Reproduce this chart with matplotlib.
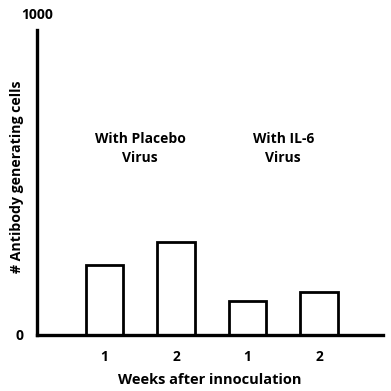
import matplotlib

matplotlib.use("Agg")
import matplotlib.pyplot as plt

# data
positions = [0, 1, 2, 3]
week_labels = ["1", "2", "1", "2"]
antibody_cells = [230, 305, 111, 141]
group_labels = ["With Placebo\nVirus", "With IL-6\nVirus"]
group_centers = [0.5, 2.5]

plt.rcParams["font.family"] = ["Open Sans", "DejaVu Sans"]
plt.rcParams["font.weight"] = "bold"

fig = plt.figure(figsize=(3.91, 3.91), dpi=100)
ax = fig.add_axes((37 / 391, 56 / 391, 346 / 391, 305 / 391))

ax.bar(
    positions,
    antibody_cells,
    width=0.52,
    facecolor="white",
    edgecolor="black",
    linewidth=2.0,
    zorder=2,
)

ax.set_xlim(-0.944, 3.895)
ax.set_ylim(0, 1000)

for side in ("top", "right"):
    ax.spines[side].set_visible(False)
for side in ("left", "bottom"):
    ax.spines[side].set_linewidth(2.4)
    ax.spines[side].set_zorder(3)

ax.set_xticks(positions)
ax.set_xticklabels(week_labels, fontsize=10, fontweight="bold")
ax.set_yticks([0])
ax.set_yticklabels(["0"], fontsize=10, fontweight="bold")
ax.tick_params(axis="both", length=0)
ax.tick_params(axis="x", pad=11)
ax.tick_params(axis="y", pad=10)

# "1000" sits above the top of the y axis
ax.text(0, 1.025, "1000", transform=ax.transAxes, ha="center", va="bottom",
        fontsize=10, fontweight="bold")

for cx, lab in zip(group_centers, group_labels):
    ax.text(cx, 610, lab, ha="center", va="center", fontsize=10,
            fontweight="bold", linespacing=1.45)

ax.set_xlabel("Weeks after innoculation", fontsize=10.5, fontweight="bold",
              labelpad=6)
# y label drawn as figure text so it stays inside the canvas
fig.text(17 / 391, 1 - 177 / 391, "# Antibody generating cells",
         rotation=90, ha="center", va="center", fontsize=10.2,
         fontweight="bold")

fig.savefig("out.png")
